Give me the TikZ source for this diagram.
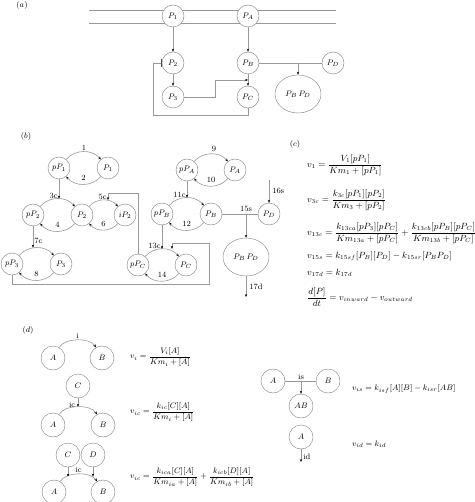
\documentclass[tikz,border=0pt]{standalone}
\usetikzlibrary{arrows.meta, shapes.geometric}
\begin{document}
\begin{tikzpicture}[x=1pt, y=-1pt, >={Stealth[length=3pt, width=2.4pt, color=black]}, font=\footnotesize]
      % Styles
      \tikzset{
        mol/.style={draw=gray, circle, minimum size=22pt, inner sep=0pt, fill=white},
        molx/.style={mol, minimum size=24pt},
        bigmol/.style={draw=gray, ellipse, minimum width=46pt, minimum height=38pt, inner sep=0pt},
        wire/.style={draw=gray!80, line width=0.6pt},
        flow/.style={wire, ->},
        num/.style={inner sep=1pt, font=\footnotesize},
        eqn/.style={anchor=west, inner sep=0pt},
      }
      \useasboundingbox (0,0) rectangle (474,502);
      % Panel titles
      \node (ta) at (22,6) {$(a)$};
      \node (tb) at (26,137) {$(b)$};
      \node (tc) at (295,145) {$(c)$};
      \node (td) at (28,330) {$(d)$};

      % (a) membrane
      \draw[wire] (89,10) -- (336,10);
      \draw[wire] (89,23) -- (336,23);
      % (a) nodes
      \node (P1) [mol] at (173,16) {$P_1$};
      \node (PA) [mol] at (248,16) {$P_A$};
      \node (P2) [mol] at (173,63) {$P_2$};
      \node (PB) [mol] at (248,63) {$P_B$};
      \node (PD) [mol] at (333,63) {$P_D$};
      \node (P3) [mol] at (173,97) {$P_3$};
      \node (PC) [mol] at (248,97) {$P_C$};
      \node (PBD) [bigmol] at (298,94) {$P_B\,P_D$};
      \coordinate (aj) at (248,80);
      \coordinate (aloop) at (153,115);
      % (a) arrows
      \draw[flow] (P1) -- (P2);
      \draw[flow] (PA) -- (PB);
      \draw[flow] (P2) -- (P3);
      \draw[flow] (PB) -- (PC);
      \draw[flow] (P3.east) -- ++(31,0) |- (aj);
      \draw[wire] (PC.south) |- (aloop) |- (P2.west);
      \draw[red, line width=1.2pt] ([yshift=4pt]P2.west) -- ([yshift=-4pt]P2.west);
      \draw[wire] (PB) -- (PD);
      \draw[flow] (PBD |- PB) -- (PBD);

      % (b) nodes
      \node (pP1) [mol] at (59,168) {$pP_1$};
      \node (bP1) [mol] at (108,168) {$P_1$};
      \node (pPA) [mol] at (187,170) {$pP_A$};
      \node (bPA) [mol] at (235,170) {$P_A$};
      \node (pP2) [mol] at (33,215) {$pP_2$};
      \node (bP2) [mol] at (82,215) {$P_2$};
      \node (iP2) [mol] at (125,215) {$iP_2$};
      \node (pPB) [mol] at (162,214) {$pP_B$};
      \node (bPB) [mol] at (211,214) {$P_B$};
      \node (bPD) [mol] at (269,214) {$P_D$};
      \node (pP3) [mol] at (12,264) {$pP_3$};
      \node (bP3) [mol] at (61,264) {$P_3$};
      \node (pPC) [mol] at (138,265) {$pP_C$};
      \node (bPC) [mol] at (186,265) {$P_C$};
      \node (bPBD) [bigmol] at (246,257) {$P_B\,P_D$};
      % (b) forward and back reactions
      \foreach \l/\r/\b in {pP1/bP1/2, pPA/bPA/10, pP2/bP2/4, bP2/iP2/6, pPB/bPB/12, pP3/bP3/8, pPC/bPC/14} {
        \draw[flow] (\l.50) to[out=50, in=130] coordinate[pos=0.5] (\l-top) (\r.130);
        \draw[flow] (\r.-130) to[out=-130, in=-50] node[midway, above, num, yshift=2.5pt] (\l-lbl) {\b} (\l.-50);
      }
      \node (n1) [num] at (84,148) {1};
      \node (n9) [num] at (214,149) {9};
      % (b) catalysed steps
      \coordinate (c5) at (108,193);
      \coordinate (c13a) at (209,284);
      \coordinate (c13b) at (172,243);
      \coordinate (in16) at (269,180);
      \coordinate (out17) at (246,297);
      \draw[flow] (pP1.south) -- node[pos=0.88, left, num] (n3c) {3c} (pP1.south |- pP2-top);
      \draw[flow] (pPC.north) |- (c5) -- node[pos=0.5, left, num] (n5c) {5c} (c5 |- bP2-top);
      \draw[flow] (pP2.south) -- node[pos=0.7, right, num] (n7c) {7c} (pP2.south |- pP3-top);
      \draw[flow] (pPA.south) -- node[pos=0.85, left, num] (n11c) {11c} (pPA.south |- pPB-top);
      \draw[flow] (pPB.south) -- node[pos=0.88, left, num] (n13c) {13c} (pPB.south |- pPC-top);
      \draw[flow] (pP3.south) |- (c13a) |- (c13b) -- (c13b |- pPC-top);
      \draw[wire] (bPB) -- (bPD);
      \draw[flow] (bPBD |- bPB) node[above, num, yshift=1pt] (n15s) {15s} -- (bPBD);
      \draw[flow] (in16) -- node[midway, right, num, xshift=2pt] (n16s) {16s} (bPD);
      \draw[flow] (bPBD) -- node[midway, right, num, xshift=2pt] (n17d) {17d} (out17);

      % (c) rate laws
      \begin{scope}[font=\small]
      \node (e1) [eqn] at (307,165) {$\displaystyle v_1=\frac{V_1[pP_1]}{Km_1+[pP_1]}$};
      \node (e3c) [eqn] at (307,200) {$\displaystyle v_{3c}=\frac{k_{3c}[pP_1][pP_2]}{Km_3+[pP_2]}$};
      \node (e13c) [eqn] at (307,233) {$\displaystyle v_{13c}=\frac{k_{13ca}[pP_3][pP_C]}{Km_{13a}+[pP_C]}+\frac{k_{13cb}[pP_B][pP_C]}{Km_{13b}+[pP_C]}$};
      \node (e15s) [eqn] at (307,256) {$v_{15s}=k_{15sf}[P_B][P_D]-k_{15sr}[P_BP_D]$};
      \node (e17d) [eqn] at (307,273) {$v_{17d}=k_{17d}$};
      \node (edp) [eqn] at (307,297) {$\displaystyle \frac{d[P]}{dt}=v_{inward}-v_{outward}$};
      \end{scope}

      % (d) nodes
      \node (A1) [molx] at (53,358) {$A$};
      \node (B1) [molx] at (102,358) {$B$};
      \node (C2) [molx] at (78,386) {$C$};
      \node (A2) [molx] at (53,425) {$A$};
      \node (B2) [molx] at (103,425) {$B$};
      \node (C3) [molx] at (68,455) {$C$};
      \node (D3) [molx] at (93,455) {$D$};
      \node (A3) [molx] at (54,492) {$A$};
      \node (B3) [molx] at (103,492) {$B$};
      \node (As) [molx] at (273,381) {$A$};
      \node (Bs) [molx] at (328,381) {$B$};
      \node (AB) [molx] at (301,406) {$AB$};
      \node (Ad) [molx] at (301,437) {$A$};
      \coordinate (dout) at (301,462);
      % (d) arrows
      \draw[flow] (A1.60) to[out=60, in=120, looseness=0.8] node[midway, above, num] (ni) {i} (B1.120);
      \draw[flow] (A2.60) to[out=60, in=120, looseness=0.8] coordinate[pos=0.5] (k2) (B2.120);
      \draw[flow] (C2.south) -- node[pos=0.8, left, num, xshift=-1.5pt] (nic2) {ic} (C2.south |- k2);
      \draw[flow] (A3.60) to[out=60, in=120, looseness=0.8] coordinate[pos=0.2] (k3a) node[midway, above, num] (nic3) {ic} coordinate[pos=0.8] (k3b) (B3.120);
      \draw[flow] (C3.south) -- (C3.south |- k3a);
      \draw[flow] (D3.south) -- (D3.south |- k3b);
      \draw[wire] (As) -- (Bs);
      \draw[flow] (AB |- As) node[above, num] (nis) {is} -- (AB);
      \draw[flow] (Ad) -- node[pos=0.6, right, num, xshift=1pt] (nid) {id} (dout);
      % (d) rate laws
      \node (ei) [eqn] at (130,357) {$\displaystyle v_i=\frac{V_i[A]}{Km_i+[A]}$};
      \node (eic) [eqn] at (130,412) {$\displaystyle v_{ic}=\frac{k_{ic}[C][A]}{Km_i+[A]}$};
      \node (eic2) [eqn] at (130,477) {$\displaystyle v_{ic}=\frac{k_{ica}[C][A]}{Km_{ia}+[A]}+\frac{k_{icb}[D][A]}{Km_{ib}+[A]}$};
      \node (eis) [eqn] at (352,389) {$v_{is}=k_{isf}[A][B]-k_{isr}[AB]$};
      \node (eid) [eqn] at (352,444) {$v_{id}=k_{id}$};
    \end{tikzpicture}
\end{document}
